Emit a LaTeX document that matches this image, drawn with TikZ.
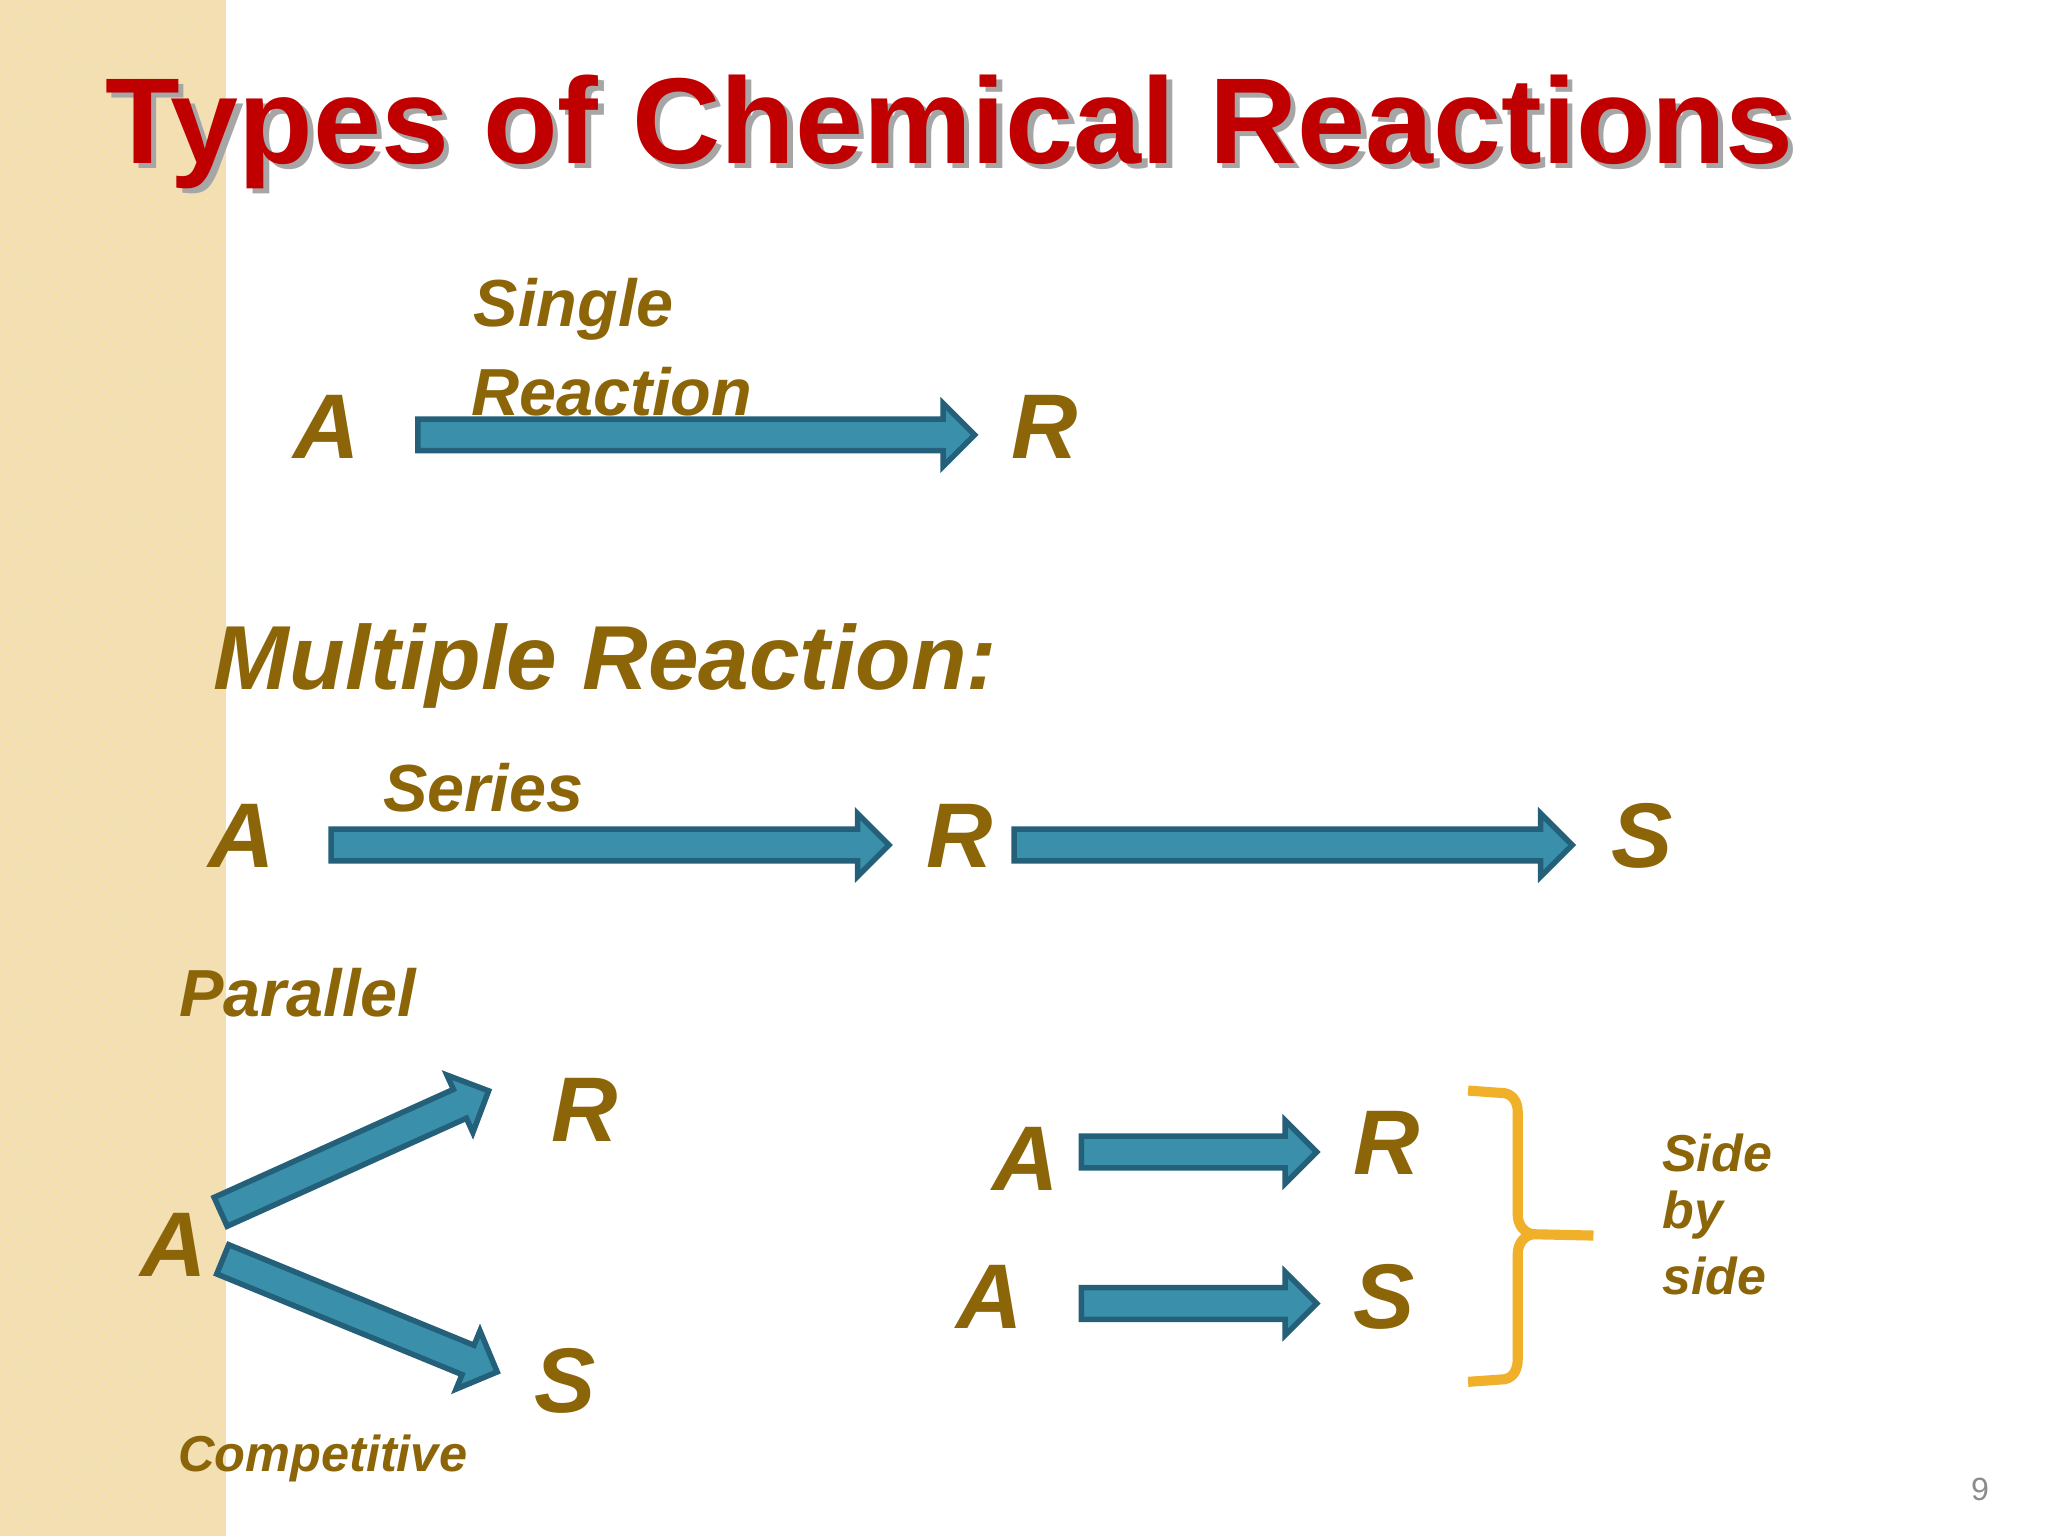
\documentclass[tikz,border=0pt]{standalone}
\usepackage{fontspec}
\setmainfont{Liberation Sans}
\usetikzlibrary{shapes.arrows,patterns}
\definecolor{ttl}{HTML}{C00000}
\definecolor{brn}{HTML}{8B6508}
\definecolor{teal1}{HTML}{3A90AA}
\definecolor{teal2}{HTML}{24607A}
\definecolor{beige}{HTML}{F2DFB4}
\definecolor{brc}{HTML}{F0B02A}
\tikzset{
 lbl/.style={text=brn,font=\bfseries\itshape\fontsize{#1}{#1}\selectfont,inner sep=0pt},
 tarr/.style={single arrow,draw=teal2,fill=teal1,line width=1.2pt,
   single arrow head extend=0.12cm,single arrow tip angle=90,inner xsep=0pt,inner ysep=0.1cm,
   text height=0pt,text depth=0pt,text width=0pt}
}
\begin{document}
\begin{tikzpicture}[x=0.01cm,y=0.01cm]
\useasboundingbox (0,0) rectangle (1568,1176);
\fill[white] (0,0) rectangle (1568,1176);
\fill[beige] (0,0) rectangle (173,1176);
\fill[pattern=crosshatch dots,pattern color=brc!40] (0,0) rectangle (173,1176);
% title
\node[text=black!35,font=\bfseries\fontsize{26.6}{26.6}\selectfont,inner sep=0pt] at (731,1071) {Types of Chemical Reactions};
\node[text=ttl,font=\bfseries\fontsize{26.6}{26.6}\selectfont,inner sep=0pt] (title) at (727,1075) {Types of Chemical Reactions};
% single
\node[lbl=14.5,anchor=west] (sg) at (362,939) {Single};
\node[lbl=14.5,anchor=west] (rc) at (360,876) {Reaction};
\node[lbl=20] (a1) at (250,849) {A};
\node[lbl=20] (r1) at (800,849) {R};
\node[tarr,minimum height=4.26cm] (ar1) at (527,843) {};
% multiple
\node[lbl=19.8,anchor=west] (mr) at (163,666) {Multiple Reaction:};
\node[lbl=14.5] (ser) at (370,573) {Series};
\node[lbl=20] (a2) at (185,536) {A};
\node[lbl=20] (r2) at (735,536) {R};
\node[lbl=20] (s2) at (1257,536) {S};
\node[tarr,minimum height=4.27cm] (ar2) at (461,529) {};
\node[tarr,minimum height=4.27cm] (ar3) at (984,529) {};
% parallel
\node[lbl=14.5] (par) at (228,416) {Parallel};
\node[lbl=11] (comp) at (247,59) {Competitive};
\node[lbl=20] (a3) at (133,223) {A};
\node[lbl=20] (r3) at (448,326) {R};
\node[lbl=20] (s3) at (433,119) {S};
\node[tarr,minimum height=2.25cm,rotate=24.3] (ar4) at (266,292) {};
\node[tarr,minimum height=2.27cm,rotate=-22.3] (ar5) at (270,171) {};
% side by side
\node[lbl=20] (a4) at (785,289) {A};
\node[lbl=20] (r4) at (1062,301) {R};
\node[lbl=20] (a5) at (758,183) {A};
\node[lbl=20] (s5) at (1060,183) {S};
\node[tarr,minimum height=1.8cm] (ar6) at (912,294) {};
\node[tarr,minimum height=1.8cm] (ar7) at (912,178) {};
\draw[brc,line width=2.2pt] (1124,341) -- (1152,339) to[out=-10,in=90] (1162,325) -- (1162,246) to[out=-90,in=180] (1175,231) -- (1220,230)
  (1175,231) to[out=180,in=90] (1162,216) -- (1162,135) to[out=-90,in=10] (1152,120) -- (1124,118);
\node[lbl=11.3,anchor=west] (sd1) at (1272,293) {Side};
\node[lbl=11.3,anchor=west] (sd2) at (1272,246) {by};
\node[lbl=11.3,anchor=west] (sd3) at (1272,199) {side};
\node[text=black!45,font=\fontsize{7}{7}\selectfont] (pg) at (1516,36) {9};
\end{tikzpicture}
\end{document}
